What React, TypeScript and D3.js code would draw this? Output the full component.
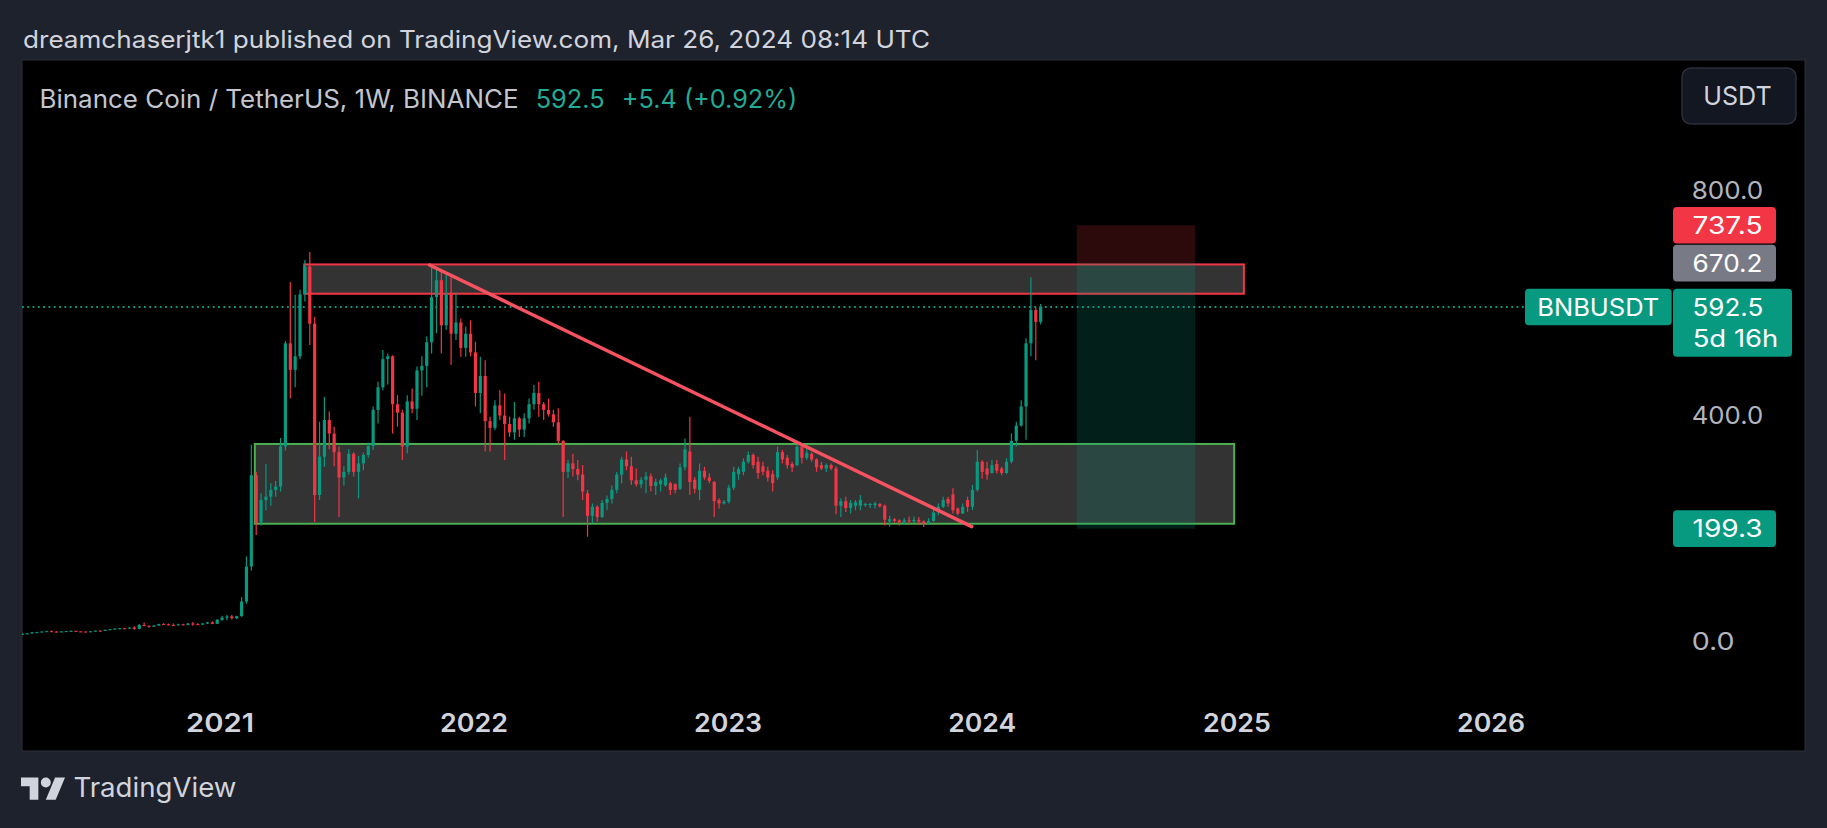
import React from "react";
import * as d3 from "d3";

type OHLC = [number, number, number, number];

// Weekly BNB/USDT candles [open, high, low, close], one per week from FIRST_WEEK
const FIRST_WEEK = "2020-03-23";

const candles2020: OHLC[] = [
  [11.5, 13.8, 11.0, 12.8], [12.8, 14.2, 12.2, 13.5], [13.5, 16.0, 13.2, 15.3], [15.3, 16.2, 14.8, 15.6],
  [15.6, 17.0, 15.4, 16.8], [16.8, 18.0, 16.2, 17.4], [17.4, 18.5, 16.0, 16.6], [16.6, 17.5, 15.5, 16.3],
  [16.3, 17.2, 15.9, 16.9], [16.9, 17.8, 16.5, 17.5], [17.5, 18.5, 17.0, 18.0], [18.0, 18.2, 16.8, 17.0],
  [17.0, 17.6, 16.5, 16.8], [16.8, 17.0, 15.5, 15.8], [15.8, 17.5, 15.6, 17.2], [17.2, 18.5, 17.0, 18.3],
  [18.3, 19.0, 17.6, 17.9], [17.9, 20.0, 17.8, 19.8], [19.8, 21.5, 19.5, 20.9], [20.9, 22.5, 20.5, 22.0],
  [22.0, 23.0, 21.0, 22.6], [22.6, 23.4, 21.5, 22.0], [22.0, 24.2, 21.8, 23.8], [23.8, 26.0, 20.5, 21.5],
  [21.5, 30.0, 21.0, 28.5], [28.5, 33.0, 26.0, 27.0], [27.0, 27.5, 23.5, 25.5], [25.5, 28.0, 25.0, 27.5],
  [27.5, 30.5, 27.0, 30.0], [30.0, 31.5, 29.0, 29.4], [29.4, 31.0, 28.0, 28.6], [28.6, 31.0, 27.0, 28.0],
  [28.0, 30.5, 27.5, 29.5], [29.5, 30.5, 28.0, 28.5], [28.5, 32.0, 28.0, 31.0], [31.0, 33.5, 27.0, 30.0],
  [30.0, 31.5, 28.8, 29.2], [29.2, 31.5, 28.5, 31.0], [31.0, 34.0, 30.0, 33.0], [33.0, 35.0, 29.5, 30.5],
  [30.5, 39.0, 30.0, 37.5],
];

const candles2021: OHLC[] = [
  [37.5, 45.0, 36.0, 41.5], [41.5, 46.5, 37.0, 43.5], [43.5, 46.0, 38.0, 40.5], [40.5, 45.0, 38.5, 44.0],
  [44, 78, 43, 70], [70, 150, 66, 132], [132, 348, 125, 294], [294, 300, 188, 210],
  [210, 262, 205, 250], [250, 314, 232, 256], [256, 280, 240, 268], [268, 284, 256, 274],
  [274, 360, 265, 345], [345, 532, 338, 528], [528, 637, 430, 481], [481, 614, 450, 505],
  [505, 623, 500, 615], [615, 676, 602, 664], [664, 690, 525, 563], [563, 575, 211, 259],
  [259, 389, 250, 327], [327, 433, 309, 392], [392, 407, 340, 368], [368, 380, 310, 335],
  [335, 345, 220, 290], [290, 310, 276, 300], [300, 340, 295, 332], [332, 335, 292, 300],
  [300, 328, 253, 315], [315, 334, 303, 330], [330, 352, 325, 346], [346, 416, 339, 410],
  [410, 460, 386, 450], [450, 516, 445, 500], [500, 510, 455, 505], [505, 507, 368, 420],
  [420, 436, 380, 405], [405, 410, 321, 345], [345, 436, 333, 425], [425, 448, 404, 412],
  [412, 487, 392, 480], [480, 505, 435, 488], [488, 540, 450, 530], [530, 668, 510, 610],
  [610, 660, 546, 640], [640, 658, 510, 560], [560, 650, 552, 615], [615, 646, 490, 545],
  [545, 617, 534, 565], [565, 572, 504, 520], [520, 558, 504, 545], [545, 569, 505, 512],
];

const candles2022: OHLC[] = [
  [512, 531, 416, 440], [440, 504, 404, 470], [470, 498, 336, 390], [390, 398, 336, 378],
  [378, 427, 374, 418], [418, 445, 392, 400], [400, 439, 321, 385], [385, 398, 362, 370],
  [370, 424, 357, 395], [395, 398, 362, 375], [375, 404, 362, 395], [395, 430, 386, 420],
  [420, 454, 410, 440], [440, 460, 398, 420], [420, 424, 392, 410], [410, 430, 398, 402],
  [402, 410, 380, 388], [388, 413, 350, 355], [355, 356, 220, 300], [300, 321, 289, 315],
  [315, 332, 292, 305], [305, 321, 285, 295], [295, 312, 250, 265], [262, 268, 185, 222],
  [222, 244, 209, 238], [238, 241, 212, 220], [220, 250, 218, 245], [245, 258, 232, 252],
  [252, 276, 244, 268], [268, 300, 262, 295], [295, 327, 280, 322], [322, 336, 303, 310],
  [310, 327, 277, 285], [285, 306, 274, 278], [278, 291, 271, 286], [286, 300, 262, 292],
  [292, 297, 265, 275], [275, 288, 259, 282], [278, 288, 265, 285], [276, 297, 274, 290],
  [280, 283, 259, 268], [278, 280, 262, 268], [270, 315, 268, 308], [308, 359, 303, 340],
  [336, 398, 259, 282], [286, 291, 262, 270], [268, 315, 250, 302], [302, 309, 286, 290],
  [290, 297, 280, 284], [282, 284, 220, 248], [250, 253, 235, 244], [244, 250, 242, 247],
];

const candles2023: OHLC[] = [
  [247, 277, 244, 272], [272, 309, 268, 300], [296, 309, 286, 305], [300, 324, 294, 318],
  [318, 336, 315, 330], [330, 333, 306, 312], [318, 327, 288, 298], [310, 318, 294, 300],
  [302, 309, 283, 290], [296, 303, 265, 280], [290, 345, 286, 335], [335, 339, 315, 322],
  [325, 330, 306, 312], [314, 318, 300, 308], [312, 351, 310, 345], [345, 351, 315, 325],
  [325, 342, 321, 334], [332, 335, 318, 322], [322, 324, 300, 308], [312, 318, 303, 306],
  [306, 315, 300, 312], [312, 315, 303, 306], [306, 310, 225, 240], [240, 253, 220, 248],
  [248, 256, 229, 236], [236, 250, 226, 245], [240, 250, 232, 246], [240, 259, 232, 250],
  [242, 245, 238, 243], [241, 245, 236, 243], [241, 247, 235, 244], [243, 245, 237, 239],
  [240, 242, 205, 215], [212, 222, 203, 216], [216, 218, 210, 213], [214, 216, 205, 210],
  [210, 218, 206, 214], [214, 221, 208, 212], [212, 221, 209, 215], [215, 220, 206, 212],
  [212, 214, 202, 208], [208, 218, 207, 213], [213, 235, 211, 228], [228, 244, 223, 238],
  [238, 256, 236, 250], [252, 256, 238, 244], [260, 271, 226, 232], [235, 237, 223, 226],
  [226, 244, 226, 238], [250, 256, 229, 238], [238, 277, 232, 268], [268, 339, 265, 318],
];

const candles2024: OHLC[] = [
  [318, 321, 288, 300], [306, 318, 286, 295], [298, 321, 297, 312], [314, 321, 297, 302],
  [306, 309, 294, 298], [298, 324, 296, 318], [318, 368, 315, 355], [355, 389, 345, 382],
  [382, 427, 380, 416], [416, 537, 357, 528], [528, 645, 505, 587], [587, 592, 498, 566],
  [566, 598, 562, 592.5],
];

// Drawings (price / date values)
const zones = [
  { from: "2021-05-02", to: "2025-01-11", low: 616, high: 668, stroke: "#f23645" },
  { from: "2021-02-20", to: "2024-12-28", low: 208, high: 349.5, stroke: "#4caf50" },
];
const trendLine = [
  { date: "2021-10-29", price: 667 },
  { date: "2023-12-17", price: 203 },
];
const shortPosition = { from: "2024-05-16", to: "2024-11-02", stop: 737.5, entry: 670.2, target: 199.3 };

const yTicks = [800, 400, 0];
const yearTicks = ["2021", "2022", "2023", "2024", "2025", "2026"];
const lastPrice = 592.5;
const priceLabels = [
  { value: 737.5, color: "#f23645" },
  { value: 670.2, color: "#787b86" },
  { value: 199.3, color: "#089981" },
];

const UP = "#089981";
const DOWN = "#f23645";
const FONT = "Inter, 'Noto Sans', Roboto, sans-serif";

export default function App() {
  const parse = d3.utcParse("%Y-%m-%d");
  const x = d3
    .scaleUtc()
    .domain([new Date(Date.UTC(2021, 0, 1)), new Date(Date.UTC(2026, 0, 1))])
    .range([220, 1491]);
  const y = d3.scaleLinear().domain([0, 800]).range([641, 190]);
  const fmt = d3.format(".1f");

  const start = parse(FIRST_WEEK) as Date;
  const all = [...candles2020, ...candles2021, ...candles2022, ...candles2023, ...candles2024];
  const bars = all.map((c, i) => ({ date: d3.utcDay.offset(start, 7 * i), o: c[0], h: c[1], l: c[2], c: c[3] }));

  const line = d3
    .line<{ date: string; price: number }>()
    .x((d) => x(parse(d.date) as Date))
    .y((d) => y(d.price));

  const panel = { x: 22, y: 60, w: 1783, h: 691 };
  const bodyW = 3.2;
  const lastY = y(lastPrice);

  const sp = shortPosition;
  const spX0 = x(parse(sp.from) as Date);
  const spX1 = x(parse(sp.to) as Date);

  return (
    <svg
      width={1827}
      height={828}
      style={{ position: "absolute", left: 0, top: 0, display: "block" }}
      fontFamily={FONT}
    >
      <defs>
        <clipPath id="plot">
          <rect x={panel.x} y={panel.y} width={panel.w} height={panel.h} />
        </clipPath>
      </defs>
      <rect x={0} y={0} width={1827} height={828} fill="#1e222d" />
      <text x={23} y={48} fontSize={24} fill="#d1d4dc" textLength={907} lengthAdjust="spacingAndGlyphs">
        dreamchaserjtk1 published on TradingView.com, Mar 26, 2024 08:14 UTC
      </text>

      <rect x={panel.x} y={panel.y} width={panel.w} height={panel.h} fill="#000000" stroke="#2a2e39" strokeWidth={1} />

      <g clipPath="url(#plot)">
        {/* zones */}
        {zones.map((z, i) => {
          const x0 = x(parse(z.from) as Date);
          const x1 = x(parse(z.to) as Date);
          return (
            <rect
              key={i}
              x={x0}
              y={y(z.high)}
              width={x1 - x0}
              height={y(z.low) - y(z.high)}
              fill="#333333"
              stroke={z.stroke}
              strokeWidth={2}
            />
          );
        })}

        {/* dotted last price line */}
        <line x1={panel.x} x2={1525} y1={lastY} y2={lastY} stroke={UP} strokeWidth={1.8} strokeDasharray="1.8 3.5" />

        {/* candles */}
        {bars.map((b, i) => {
          const cx = x(b.date);
          const col = b.c >= b.o ? UP : DOWN;
          const top = y(Math.max(b.o, b.c));
          const bot = y(Math.min(b.o, b.c));
          return (
            <g key={i}>
              <line x1={cx} x2={cx} y1={y(b.h)} y2={y(b.l)} stroke={col} strokeWidth={1.2} />
              <rect x={cx - bodyW / 2} y={top} width={bodyW} height={Math.max(1, bot - top)} fill={col} />
            </g>
          );
        })}

        {/* trend line */}
        <path d={line(trendLine) || ""} stroke="#f7525f" strokeWidth={3.5} fill="none" strokeLinecap="round" />

        {/* short position */}
        <rect x={spX0} y={y(sp.stop)} width={spX1 - spX0} height={y(sp.entry) - y(sp.stop)} fill="rgba(242,54,69,0.18)" />
        <rect x={spX0} y={y(sp.entry)} width={spX1 - spX0} height={y(sp.target) - y(sp.entry)} fill="rgba(8,153,129,0.2)" />
      </g>

      {/* header */}
      <text x={39.5} y={108} fontSize={25} fill="#c3c6ce" textLength={479} lengthAdjust="spacingAndGlyphs">
        Binance Coin / TetherUS, 1W, BINANCE
      </text>
      <text x={535.7} y={108} fontSize={25} fill="#22ab94" textLength={69} lengthAdjust="spacingAndGlyphs">
        {fmt(lastPrice)}
      </text>
      <text x={621.8} y={108} fontSize={25} fill="#22ab94" textLength={175.5} lengthAdjust="spacingAndGlyphs">
        +5.4 (+0.92%)
      </text>

      {/* currency button */}
      <rect x={1682} y={68} width={114} height={56} rx={9} fill="#131722" stroke="#2a2e39" strokeWidth={1.5} />
      <text x={1703.3} y={105} fontSize={26} fill="#d1d4dc" textLength={68.4} lengthAdjust="spacingAndGlyphs">
        USDT
      </text>

      {/* y axis ticks */}
      {yTicks.map((t) => {
        const s = fmt(t);
        return (
          <text key={t} x={1691.7} y={y(t) + 8.5} fontSize={24} fill="#b2b5be" textLength={s.length * 14.3} lengthAdjust="spacingAndGlyphs">
            {s}
          </text>
        );
      })}

      {/* price labels */}
      {priceLabels.map((p) => {
        const cy = y(p.value);
        return (
          <g key={p.value}>
            <rect x={1673} y={cy - 18.3} width={103} height={36.6} rx={4} fill={p.color} />
            <text x={1692.5} y={cy + 8.5} fontSize={24} fill="#ffffff" textLength={70} lengthAdjust="spacingAndGlyphs">
              {fmt(p.value)}
            </text>
          </g>
        );
      })}

      {/* last price label */}
      <rect x={1525} y={lastY - 18.3} width={146.7} height={36.6} rx={4} fill={UP} />
      <text x={1537.3} y={lastY + 9.5} fontSize={24} fill="#ffffff" textLength={122} lengthAdjust="spacingAndGlyphs">
        BNBUSDT
      </text>
      <rect x={1673} y={lastY - 18.3} width={119} height={68} rx={4} fill={UP} />
      <text x={1692.5} y={lastY + 9.5} fontSize={24} fill="#ffffff" textLength={70.7} lengthAdjust="spacingAndGlyphs">
        {fmt(lastPrice)}
      </text>
      <text x={1692.7} y={lastY + 40.3} fontSize={24} fill="#ffffff" textLength={85.6} lengthAdjust="spacingAndGlyphs">
        5d 16h
      </text>

      {/* time axis */}
      {yearTicks.map((yr) => {
        const cx = x(parse(`${yr}-01-01`) as Date);
        return (
          <text key={yr} x={cx - 34} y={731.7} fontSize={26} fontWeight={600} fill="#d1d4dc" textLength={68} lengthAdjust="spacingAndGlyphs">
            {yr}
          </text>
        );
      })}

      {/* footer logo */}
      <g transform="translate(21,772.5) scale(1.24)" fill="#d1d4dc">
        <path d="M14 22H7V11H0V4h14v18zM28 22h-8l7.5-18h8L28 22z" />
        <circle cx={20} cy={8} r={4} />
      </g>
      <text x={73.4} y={797} fontSize={27} fill="#d1d4dc" textLength={163} lengthAdjust="spacingAndGlyphs">
        TradingView
      </text>
    </svg>
  );
}
